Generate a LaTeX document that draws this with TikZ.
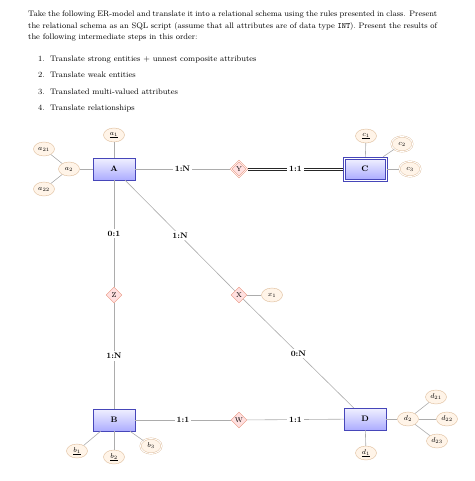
\documentclass[tikz,border=0pt]{standalone}
\usepackage{tikz}
\usepackage{amsmath}
\usepackage{amssymb}
\usetikzlibrary{shapes.geometric}

\begin{document}
\begin{tikzpicture}[x=1pt, y=-1pt,
        body/.style={inner sep=0pt, font=\fontsize{8}{10}\selectfont},
        entity/.style={rectangle, draw=blue!45!gray, top color=blue!6, bottom color=blue!32, minimum width=42pt, minimum height=22pt, inner sep=1pt, font=\fontsize{8}{9}\selectfont\bfseries},
        entityframe/.style={rectangle, draw=blue!45!gray, fill=white, minimum width=44pt, minimum height=24pt},
        attribute/.style={ellipse, draw=brown!55, fill=orange!9, minimum width=21pt, minimum height=14pt, inner sep=1pt, font=\fontsize{7}{8}\selectfont},
        multiattr/.style={attribute, double, double distance=1pt, minimum height=15pt},
        relation/.style={diamond, aspect=1, draw=red!40!brown!60, fill=red!12, minimum size=16pt, inner sep=0pt, font=\fontsize{7}{8}\selectfont},
        relationframe/.style={diamond, aspect=1, draw=red!40!brown!60, fill=white, minimum size=18pt, inner sep=0pt},
        card/.style={fill=white, inner sep=2pt, font=\fontsize{8}{9}\selectfont\bfseries},
        link/.style={draw=gray!65, line width=0.6pt},
        idline/.style={draw=black!85, line width=0.6pt}]
                \useasboundingbox (0,0) rectangle (474,481);

                \node[body, anchor=base west] (intro1) at (28,17) {\makebox[409pt][s]{Take the following ER-model and translate it into a relational schema using the rules presented in class. Present}};
                \node[body, anchor=base west] (intro2) at (28,28.5) {\makebox[409pt][s]{the relational schema as an SQL script (assume that all attributes are of data type \texttt{INT}). Present the results of}};
                \node[body, anchor=base west] (intro3) at (28,39.5) {the following intermediate steps in this order:};

                \node[body, anchor=base west] (num1) at (38,61.5) {1.};
                \node[body, anchor=base west] (step1) at (50,61.5) {Translate strong entities $+$ unnest composite attributes};
                \node[body, anchor=base west] (num2) at (38,78) {2.};
                \node[body, anchor=base west] (step2) at (50,78) {Translate weak entities};
                \node[body, anchor=base west] (num3) at (38,94.5) {3.};
                \node[body, anchor=base west] (step3) at (50,94.5) {Translated multi-valued attributes};
                \node[body, anchor=base west] (num4) at (38,111) {4.};
                \node[body, anchor=base west] (step4) at (50,111) {Translate relationships};

                \node[entity] (A) at (114,169) {A};
                \node[entity] (B) at (114,420) {B};
                \node[entityframe] (Cframe) at (365,169) {};
                \node[entity, minimum width=40pt, minimum height=20pt] (C) at (365,169) {C};
                \node[entity] (D) at (365,419) {D};

                \node[relationframe] (Yframe) at (239,169) {};
                \node[relation, minimum size=14.5pt] (Y) at (239,169) {Y};
                \node[relation] (X) at (239,295) {X};
                \node[relation] (Z) at (114,295) {Z};
                \node[relation] (W) at (239,420) {W};

                \node[attribute] (a1) at (114,135) {$\underline{a_1}$};
                \node[attribute] (a2) at (69,169) {$a_2$};
                \node[attribute] (a21) at (44,149) {$a_{21}$};
                \node[attribute] (a22) at (44,189) {$a_{22}$};
                \node[attribute] (c1) at (366,136) {$\underline{c_1}$};
                \node[multiattr] (c2) at (402,144) {$c_2$};
                \node[multiattr] (c3) at (410,169) {$c_3$};
                \node[attribute] (b1) at (77,451) {$\underline{b_1}$};
                \node[attribute] (b2) at (114,457) {$\underline{b_2}$};
                \node[multiattr] (b3) at (151,446) {$b_3$};
                \node[attribute] (d1) at (366,453) {$\underline{d_1}$};
                \node[attribute] (d2) at (408,419) {$d_2$};
                \node[attribute] (d21) at (436,397) {$d_{21}$};
                \node[attribute] (d22) at (447,419) {$d_{22}$};
                \node[attribute] (d23) at (437,441) {$d_{23}$};
                \node[attribute] (x1) at (272,295) {$x_1$};

                \draw[link] (A) -- node[card]{1:N} (Yframe);
                \draw[idline] ([yshift=-1.2pt]Yframe.east) -- ([yshift=-1.2pt]Cframe.west);
                \draw[idline] ([yshift=1.2pt]Yframe.east) -- ([yshift=1.2pt]Cframe.west);
                \path (Yframe) -- node[card]{1:1} (Cframe);
                \draw[link] (A) -- node[card]{0:1} (Z);
                \draw[link] (Z) -- node[card]{1:N} (B);
                \draw[link] (A) -- node[card]{1:N} (X);
                \draw[link] (X) -- node[card]{0:N} (D);
                \draw[link] (B) -- node[card]{1:1} (W);
                \draw[link] (W) -- node[card]{1:1} (D);

                \draw[link] (A) -- (a1);
                \draw[link] (A) -- (a2);
                \draw[link] (a2) -- (a21);
                \draw[link] (a2) -- (a22);
                \draw[link] (Cframe) -- (c1);
                \draw[link] (Cframe) -- (c2);
                \draw[link] (Cframe) -- (c3);
                \draw[link] (B) -- (b1);
                \draw[link] (B) -- (b2);
                \draw[link] (B) -- (b3);
                \draw[link] (D) -- (d1);
                \draw[link] (D) -- (d2);
                \draw[link] (d2) -- (d21);
                \draw[link] (d2) -- (d22);
                \draw[link] (d2) -- (d23);
                \draw[link] (X) -- (x1);
            \end{tikzpicture}
\end{document}
